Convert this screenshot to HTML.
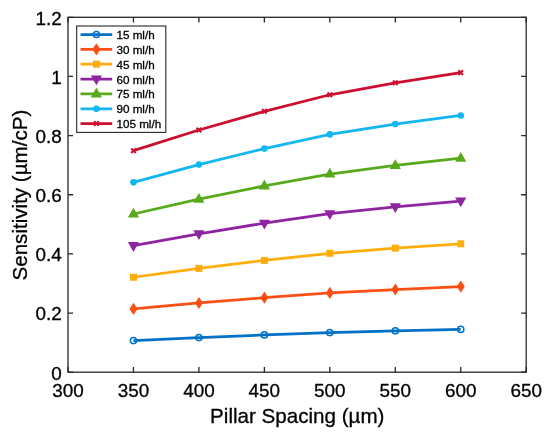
<!DOCTYPE html><html><head><meta charset="utf-8"><style>html,body{margin:0;padding:0;background:#fff;}svg{display:block;}text{font-family:"Liberation Sans",Arial,sans-serif;fill:#000;stroke:#000;stroke-width:0.3px;}</style></head><body>
<svg width="550" height="433" viewBox="0 0 550 433">
<rect width="550" height="433" fill="#fff"/>
<rect x="68.0" y="17.3" width="458.20" height="354.90" fill="none" stroke="#262626" stroke-width="1.3"/>
<path d="M68.00,372.20v-5.1M68.00,17.30v5.1M133.46,372.20v-5.1M133.46,17.30v5.1M198.91,372.20v-5.1M198.91,17.30v5.1M264.37,372.20v-5.1M264.37,17.30v5.1M329.83,372.20v-5.1M329.83,17.30v5.1M395.29,372.20v-5.1M395.29,17.30v5.1M460.74,372.20v-5.1M460.74,17.30v5.1M526.20,372.20v-5.1M526.20,17.30v5.1M68.00,372.20h5.1M526.20,372.20h-5.1M68.00,313.05h5.1M526.20,313.05h-5.1M68.00,253.90h5.1M526.20,253.90h-5.1M68.00,194.75h5.1M526.20,194.75h-5.1M68.00,135.60h5.1M526.20,135.60h-5.1M68.00,76.45h5.1M526.20,76.45h-5.1M68.00,17.30h5.1M526.20,17.30h-5.1" stroke="#262626" stroke-width="1.3" fill="none"/>
<text x="68.00" y="397.3" font-size="18.9" text-anchor="middle">300</text>
<text x="133.46" y="397.3" font-size="18.9" text-anchor="middle">350</text>
<text x="198.91" y="397.3" font-size="18.9" text-anchor="middle">400</text>
<text x="264.37" y="397.3" font-size="18.9" text-anchor="middle">450</text>
<text x="329.83" y="397.3" font-size="18.9" text-anchor="middle">500</text>
<text x="395.29" y="397.3" font-size="18.9" text-anchor="middle">550</text>
<text x="460.74" y="397.3" font-size="18.9" text-anchor="middle">600</text>
<text x="526.20" y="397.3" font-size="18.9" text-anchor="middle">650</text>
<text x="61.7" y="379.60" font-size="18.9" text-anchor="end">0</text>
<text x="61.7" y="320.45" font-size="18.9" text-anchor="end">0.2</text>
<text x="61.7" y="261.30" font-size="18.9" text-anchor="end">0.4</text>
<text x="61.7" y="202.15" font-size="18.9" text-anchor="end">0.6</text>
<text x="61.7" y="143.00" font-size="18.9" text-anchor="end">0.8</text>
<text x="61.7" y="83.85" font-size="18.9" text-anchor="end">1</text>
<text x="61.7" y="24.70" font-size="18.9" text-anchor="end">1.2</text>
<text x="297.3" y="422.6" font-size="20.6" text-anchor="middle">Pillar Spacing (µm)</text>
<text transform="translate(26.5,195.1) rotate(-90)" font-size="20.6" text-anchor="middle">Sensitivity (µm/cP)</text>
<path d="M133.46,340.55L198.91,337.60L264.37,334.94L329.83,332.57L395.29,330.85L460.74,329.40" stroke="#0072C6" stroke-width="2.75" fill="none" stroke-linejoin="round"/>
<circle cx="133.46" cy="340.55" r="3.1" fill="none" stroke="#0072C6" stroke-width="1.5"/>
<circle cx="198.91" cy="337.60" r="3.1" fill="none" stroke="#0072C6" stroke-width="1.5"/>
<circle cx="264.37" cy="334.94" r="3.1" fill="none" stroke="#0072C6" stroke-width="1.5"/>
<circle cx="329.83" cy="332.57" r="3.1" fill="none" stroke="#0072C6" stroke-width="1.5"/>
<circle cx="395.29" cy="330.85" r="3.1" fill="none" stroke="#0072C6" stroke-width="1.5"/>
<circle cx="460.74" cy="329.40" r="3.1" fill="none" stroke="#0072C6" stroke-width="1.5"/>
<path d="M133.46,308.91L198.91,302.99L264.37,297.67L329.83,292.94L395.29,289.51L460.74,286.61" stroke="#FA5014" stroke-width="2.75" fill="none" stroke-linejoin="round"/>
<polygon points="133.46,302.81 137.46,308.91 133.46,315.01 129.46,308.91" fill="#FA5014"/>
<polygon points="198.91,296.89 202.91,302.99 198.91,309.09 194.91,302.99" fill="#FA5014"/>
<polygon points="264.37,291.57 268.37,297.67 264.37,303.77 260.37,297.67" fill="#FA5014"/>
<polygon points="329.83,286.84 333.83,292.94 329.83,299.04 325.83,292.94" fill="#FA5014"/>
<polygon points="395.29,283.41 399.29,289.51 395.29,295.61 391.29,289.51" fill="#FA5014"/>
<polygon points="460.74,280.51 464.74,286.61 460.74,292.71 456.74,286.61" fill="#FA5014"/>
<path d="M133.46,277.26L198.91,268.39L264.37,260.41L329.83,253.31L395.29,248.16L460.74,243.81" stroke="#FFAD0A" stroke-width="2.75" fill="none" stroke-linejoin="round"/>
<rect x="129.96" y="273.76" width="7.0" height="7.0" fill="#FFAD0A"/>
<rect x="195.41" y="264.89" width="7.0" height="7.0" fill="#FFAD0A"/>
<rect x="260.87" y="256.91" width="7.0" height="7.0" fill="#FFAD0A"/>
<rect x="326.33" y="249.81" width="7.0" height="7.0" fill="#FFAD0A"/>
<rect x="391.79" y="244.66" width="7.0" height="7.0" fill="#FFAD0A"/>
<rect x="457.24" y="240.31" width="7.0" height="7.0" fill="#FFAD0A"/>
<path d="M133.46,245.62L198.91,233.79L264.37,223.14L329.83,213.68L395.29,206.82L460.74,201.02" stroke="#8E24A0" stroke-width="2.75" fill="none" stroke-linejoin="round"/>
<polygon points="127.86,242.12 139.06,242.12 133.46,251.92" fill="#8E24A0"/>
<polygon points="193.31,230.29 204.51,230.29 198.91,240.09" fill="#8E24A0"/>
<polygon points="258.77,219.64 269.97,219.64 264.37,229.44" fill="#8E24A0"/>
<polygon points="324.23,210.18 335.43,210.18 329.83,219.98" fill="#8E24A0"/>
<polygon points="389.69,203.32 400.89,203.32 395.29,213.12" fill="#8E24A0"/>
<polygon points="455.14,197.52 466.34,197.52 460.74,207.32" fill="#8E24A0"/>
<path d="M133.46,213.97L198.91,199.19L264.37,185.88L329.83,174.05L395.29,165.47L460.74,158.22" stroke="#58AA1C" stroke-width="2.75" fill="none" stroke-linejoin="round"/>
<polygon points="127.86,217.47 139.06,217.47 133.46,207.67" fill="#58AA1C"/>
<polygon points="193.31,202.69 204.51,202.69 198.91,192.89" fill="#58AA1C"/>
<polygon points="258.77,189.38 269.97,189.38 264.37,179.58" fill="#58AA1C"/>
<polygon points="324.23,177.55 335.43,177.55 329.83,167.75" fill="#58AA1C"/>
<polygon points="389.69,168.97 400.89,168.97 395.29,159.17" fill="#58AA1C"/>
<polygon points="455.14,161.72 466.34,161.72 460.74,151.92" fill="#58AA1C"/>
<path d="M133.46,182.33L198.91,164.58L264.37,148.61L329.83,134.42L395.29,124.12L460.74,115.43" stroke="#12B6F0" stroke-width="2.75" fill="none" stroke-linejoin="round"/>
<circle cx="133.46" cy="182.33" r="3.3" fill="#12B6F0"/>
<circle cx="198.91" cy="164.58" r="3.3" fill="#12B6F0"/>
<circle cx="264.37" cy="148.61" r="3.3" fill="#12B6F0"/>
<circle cx="329.83" cy="134.42" r="3.3" fill="#12B6F0"/>
<circle cx="395.29" cy="124.12" r="3.3" fill="#12B6F0"/>
<circle cx="460.74" cy="115.43" r="3.3" fill="#12B6F0"/>
<path d="M133.46,150.68L198.91,129.98L264.37,111.35L329.83,94.79L395.29,82.78L460.74,72.63" stroke="#CC0F2E" stroke-width="2.75" fill="none" stroke-linejoin="round"/>
<path d="M131.16,148.38L135.76,152.98M131.16,152.98L135.76,148.38" stroke="#CC0F2E" stroke-width="2.0" fill="none"/>
<path d="M196.61,127.68L201.21,132.28M196.61,132.28L201.21,127.68" stroke="#CC0F2E" stroke-width="2.0" fill="none"/>
<path d="M262.07,109.05L266.67,113.65M262.07,113.65L266.67,109.05" stroke="#CC0F2E" stroke-width="2.0" fill="none"/>
<path d="M327.53,92.49L332.13,97.09M327.53,97.09L332.13,92.49" stroke="#CC0F2E" stroke-width="2.0" fill="none"/>
<path d="M392.99,80.48L397.59,85.08M392.99,85.08L397.59,80.48" stroke="#CC0F2E" stroke-width="2.0" fill="none"/>
<path d="M458.44,70.33L463.04,74.93M458.44,74.93L463.04,70.33" stroke="#CC0F2E" stroke-width="2.0" fill="none"/>
<rect x="76.7" y="26.0" width="89.10" height="106.40" fill="#fff" stroke="#262626" stroke-width="1.1"/>
<path d="M80.5,34.50H112.2" stroke="#0072C6" stroke-width="2.75" fill="none"/>
<circle cx="96.40" cy="34.50" r="3.1" fill="none" stroke="#0072C6" stroke-width="1.5"/>
<text x="116.4" y="39.00" font-size="11.7">15 ml/h</text>
<path d="M80.5,49.35H112.2" stroke="#FA5014" stroke-width="2.75" fill="none"/>
<polygon points="96.40,43.25 100.40,49.35 96.40,55.45 92.40,49.35" fill="#FA5014"/>
<text x="116.4" y="53.85" font-size="11.7">30 ml/h</text>
<path d="M80.5,64.20H112.2" stroke="#FFAD0A" stroke-width="2.75" fill="none"/>
<rect x="92.90" y="60.70" width="7.0" height="7.0" fill="#FFAD0A"/>
<text x="116.4" y="68.70" font-size="11.7">45 ml/h</text>
<path d="M80.5,79.05H112.2" stroke="#8E24A0" stroke-width="2.75" fill="none"/>
<polygon points="90.80,75.55 102.00,75.55 96.40,85.35" fill="#8E24A0"/>
<text x="116.4" y="83.55" font-size="11.7">60 ml/h</text>
<path d="M80.5,93.90H112.2" stroke="#58AA1C" stroke-width="2.75" fill="none"/>
<polygon points="90.80,97.40 102.00,97.40 96.40,87.60" fill="#58AA1C"/>
<text x="116.4" y="98.40" font-size="11.7">75 ml/h</text>
<path d="M80.5,108.75H112.2" stroke="#12B6F0" stroke-width="2.75" fill="none"/>
<circle cx="96.40" cy="108.75" r="3.3" fill="#12B6F0"/>
<text x="116.4" y="113.25" font-size="11.7">90 ml/h</text>
<path d="M80.5,123.60H112.2" stroke="#CC0F2E" stroke-width="2.75" fill="none"/>
<path d="M94.10,121.30L98.70,125.90M94.10,125.90L98.70,121.30" stroke="#CC0F2E" stroke-width="2.0" fill="none"/>
<text x="116.4" y="128.10" font-size="11.7">105 ml/h</text>
</svg></body></html>
